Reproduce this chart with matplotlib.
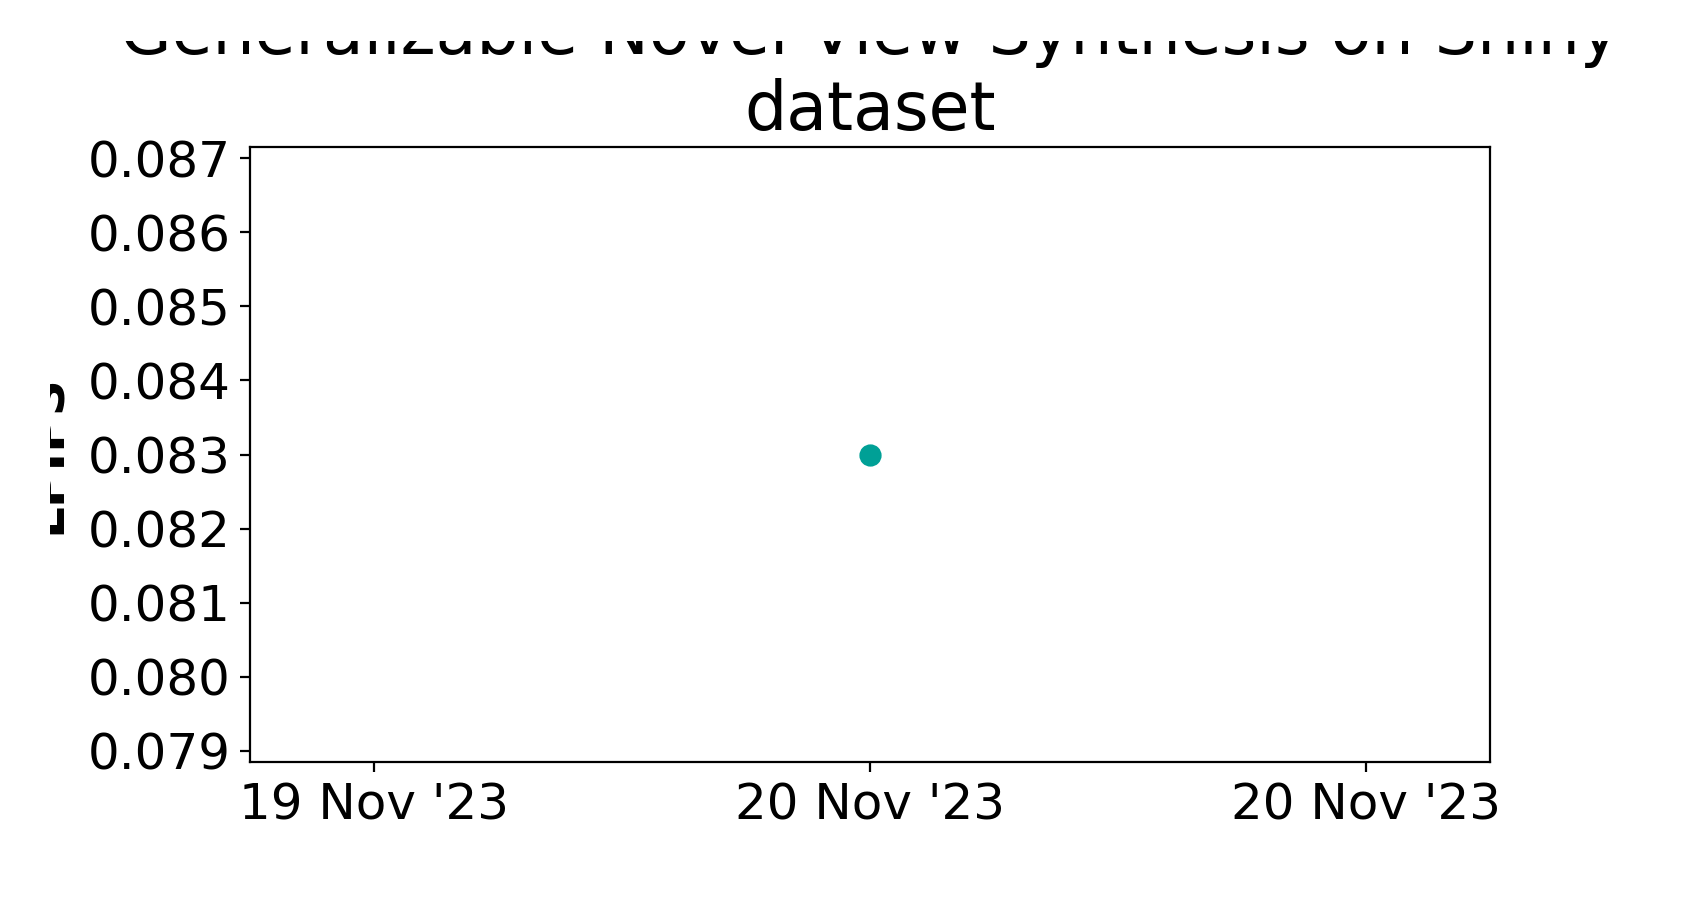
import datetime as dt

import matplotlib
matplotlib.use("Agg")
import matplotlib.pyplot as plt
import matplotlib.dates as mdates
from matplotlib.ticker import MultipleLocator
from matplotlib.transforms import Bbox, TransformedBbox

# data
dates = [dt.datetime(2023, 11, 20, 0, 0)]
lpips = [0.083]

title = "Generalizable Novel View Synthesis on Shiny\ndataset"
y_label = "LPIPS"
x_span = (dt.timedelta(hours=-15.0), dt.timedelta(hours=15.0))
y_span = (0.07885, 0.08715)

fig = plt.figure(figsize=(8.5, 4.5), dpi=200)
ax = fig.add_axes([250 / 1700, 1 - 762 / 900, (1490 - 250) / 1700, (762 - 147) / 900])

ax.plot(dates, lpips, "o", color="#00a096", markersize=7)

ax.set_xlim(dates[0] + x_span[0], dates[0] + x_span[1])
ax.set_ylim(*y_span)
ax.yaxis.set_major_locator(MultipleLocator(0.001))
ax.xaxis.set_major_locator(mdates.HourLocator(byhour=[0, 12]))
ax.xaxis.set_major_formatter(mdates.DateFormatter("%d %b '%y"))
ax.tick_params(labelsize=18)

t = ax.set_title(title, fontsize=24)
yl = ax.set_ylabel(y_label, fontsize=18, fontweight="bold", labelpad=6)

# the reference has the title's first line and the y label cut off
clip = TransformedBbox(Bbox([[50 / 1700, 0], [1, 1 - 41 / 900]]), fig.transFigure)
for txt in (t, yl):
    txt.set_clip_box(clip)
    txt.set_clip_on(True)

fig.savefig("out.png", dpi=200)
